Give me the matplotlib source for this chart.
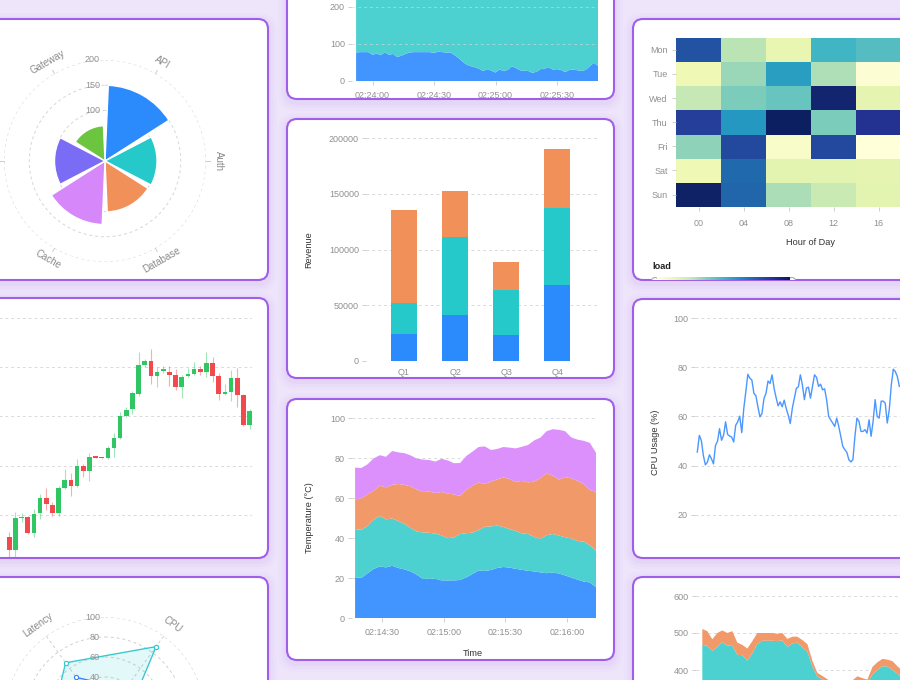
import matplotlib
matplotlib.use("Agg")
import matplotlib.pyplot as plt
import numpy as np
from matplotlib.patches import FancyBboxPatch, Circle

plt.rcParams['font.family'] = ['Liberation Sans', 'DejaVu Sans']

# --- data ---
# rose chart (top left)
rose_labels = ['API', 'Auth', 'Database', 'Cache', 'Queue', 'Gateway']
rose_values = [150, 103, 101, 126, 100, 70]

# stacked area (top middle), 2 s samples from 02:23:52
top_blue = [77, 78, 78, 78, 71, 74, 70, 77, 71, 73, 65, 68, 73, 77, 78, 78, 78, 78, 78, 76,
            79, 78, 77, 77, 70, 62, 52, 44, 40, 37, 33, 27, 32, 28, 23, 31, 27, 30, 40, 35,
            29, 28, 27, 22, 25, 32, 34, 36, 31, 32, 30, 24, 30, 31, 29, 27, 30, 40, 49, 41]
top_teal = [250, 248, 252, 255, 258, 254, 260, 251, 256, 253, 262, 259, 255, 250, 248, 252, 255, 249, 251, 253,
            250, 252, 254, 255, 260, 266, 275, 282, 286, 288, 292, 297, 293, 296, 300, 294, 297, 294, 285, 290,
            295, 296, 297, 302, 299, 292, 290, 288, 293, 292, 294, 300, 294, 293, 295, 297, 294, 284, 276, 283]
top_ticks = [0, 30, 60, 90]
top_tick_labels = ['02:24:00', '02:24:30', '02:25:00', '02:25:30']

# stacked revenue bars
quarters = ['Q1', 'Q2', 'Q3', 'Q4']
rev_a = [24500, 41300, 23300, 67900]
rev_b = [27500, 69900, 40100, 69300]
rev_c = [83400, 41600, 25400, 53000]

# heatmap
days = ['Mon', 'Tue', 'Wed', 'Thu', 'Fri', 'Sat', 'Sun']
hours = ['00', '04', '08', '12', '16', '20']
load = [[78, 27, 14, 50, 46, 45],
        [11, 33, 58, 29, 2, 60],
        [25, 38, 42, 95, 15, 30],
        [84, 60, 98, 38, 88, 20],
        [35, 81, 5, 81, 0, 50],
        [11, 72, 16, 16, 15, 85],
        [97, 73, 30, 24, 16, 40]]

# candlestick (open, high, low, close)
c_open = [97.8, 96.5, 99.7, 99.8, 98.2, 100.2, 101.7, 101.0, 100.2, 102.7,
          103.6, 102.9, 105.0, 104.5, 105.9, 105.8, 105.75, 106.8, 107.8, 110.0,
          110.8, 112.3, 115.2, 115.6, 114.1, 114.6, 114.5, 114.2, 113.0, 114.1,
          114.3, 114.8, 114.5, 115.4, 114.1, 112.3, 112.5, 113.9, 112.2, 109.1]
c_high = [98.3, 100.3, 100.2, 99.9, 100.6, 102.1, 102.7, 101.3, 102.9, 104.7,
          104.3, 105.7, 105.2, 106.3, 106.0, 105.8, 107.0, 108.3, 110.4, 110.95,
          112.6, 116.5, 115.8, 116.8, 115.0, 115.1, 115.1, 114.8, 114.2, 114.9,
          115.5, 115.1, 116.5, 116.0, 114.4, 113.3, 114.7, 114.9, 112.3, 110.8]
c_low = [95.6, 95.6, 99.3, 98.1, 97.8, 99.6, 100.5, 99.9, 99.9, 102.6,
         101.9, 102.8, 103.9, 103.4, 105.8, 105.7, 105.7, 105.85, 107.7, 109.9,
         110.2, 112.1, 115.0, 113.3, 113.0, 114.4, 113.1, 112.7, 111.9, 114.0,
         114.2, 114.2, 114.0, 113.5, 111.7, 112.2, 111.6, 111.0, 109.0, 108.7]
c_close = [96.45, 99.7, 99.8, 98.2, 100.1, 101.7, 101.1, 100.2, 102.7, 103.6,
           102.9, 105.0, 104.5, 105.9, 105.8, 105.75, 106.8, 107.8, 110.0, 110.7,
           112.4, 115.2, 115.6, 114.1, 114.5, 114.8, 114.2, 113.0, 114.0, 114.3,
           114.8, 114.5, 115.4, 114.1, 112.3, 112.5, 113.9, 112.2, 109.1, 110.5]

# temperature stacked area, 3 s samples from 02:14:17
temp_a = [20.4, 20.0, 22.3, 24.5, 25.8, 25.3, 26.1, 25.0, 24.3, 23.3, 21.6, 19.5, 19.7, 19.6, 18.8, 18.8, 18.8, 19.0, 20.3, 22.0,
          23.8, 23.5, 24.0, 25.0, 25.5, 25.2, 24.6, 24.1, 23.6, 23.3, 22.8, 22.4, 22.8, 22.2, 21.3, 20.2, 19.2, 18.2, 17.8, 15.4]
temp_b = [24.0, 24.1, 23.7, 24.7, 25.2, 24.0, 23.7, 23.4, 22.7, 21.7, 21.6, 23.3, 22.9, 22.6, 22.5, 21.1, 21.4, 23.0, 22.1, 20.7,
          20.2, 22.1, 21.8, 21.2, 20.0, 19.2, 18.9, 18.2, 18.4, 17.2, 16.8, 19.0, 19.2, 19.0, 19.1, 19.5, 19.3, 20.0, 18.5, 18.3]
temp_c = [14.9, 15.7, 15.8, 14.4, 15.2, 16.0, 16.8, 18.6, 19.6, 20.8, 21.0, 20.2, 20.6, 20.3, 21.7, 22.3, 21.6, 19.0, 21.6, 23.5,
          23.8, 21.4, 22.4, 23.1, 24.8, 25.1, 24.5, 26.3, 25.8, 27.7, 30.4, 30.9, 29.2, 28.0, 30.1, 30.1, 30.1, 28.8, 27.7, 29.4]
temp_d = [15.9, 15.2, 15.0, 16.2, 15.2, 15.3, 16.9, 15.8, 15.8, 15.5, 15.5, 16.2, 15.8, 15.7, 16.6, 16.6, 15.6, 16.5, 17.0, 17.0,
          17.7, 18.8, 15.8, 15.2, 15.2, 15.7, 16.8, 17.0, 18.7, 20.6, 20.2, 21.1, 23.2, 24.9, 22.9, 20.5, 20.6, 21.6, 23.6, 19.5]
temp_ticks = [0, 30, 60, 90]
temp_tick_labels = ['02:14:30', '02:15:00', '02:15:30', '02:16:00']

# CPU usage line
cpu = [45.5, 52.3, 50.2, 44.1, 40.3, 41.4, 44.4, 42.8, 40.7, 48.2, 49.9, 55.0, 50.3, 52.3, 57.8, 52.7, 52.0, 51.6,
       49.6, 56.4, 57.8, 60.1, 53.4, 63.2, 70.0, 77.1, 75.5, 74.8, 69.4, 68.4, 63.9, 59.8, 61.2, 67.3, 69.4, 74.4,
       73.4, 76.9, 71.4, 67.6, 64.3, 65.9, 63.9, 66.6, 63.2, 60.5, 57.1, 63.2, 67.3, 71.4, 72.0, 76.9,
       72.8, 66.8, 71.5, 71.9, 67.4, 72.2, 76.9, 75.9, 72.2, 73.1, 70.8, 71.2, 66.8, 60.0, 58.6, 57.3, 55.9,
       59.3, 55.9, 51.9, 47.8, 46.5, 45.4, 42.4, 41.5, 42.4, 51.9, 59.3, 58.0, 53.9, 53.9, 54.6, 53.2, 58.6,
       51.9, 58.0, 66.8, 60.0, 59.3, 66.2, 66.2, 65.4, 57.3, 62.7, 72.8, 79.2, 78.2, 76.2, 72.2]

# radar (bottom left)
radar_axes = ['CPU', 'Memory', 'Disk', 'Network', 'Latency']
radar_a = [87, 20, 55, 60, 67]
radar_b = [35, 45, 40, 30, 49]

# stacked area (bottom right)
br_teal = [468, 465, 452, 462, 475, 466, 465, 441, 440, 425, 445, 470, 479, 479, 479, 478, 480, 462, 472, 474, 461,
           450, 410, 382, 375, 366, 356, 350, 352, 355, 362, 372, 368, 364, 388, 400, 410, 410, 400, 390, 378]
br_orange = [43, 40, 31, 38, 32, 34, 40, 33, 28, 33, 33, 30, 21, 21, 21, 20, 20, 22, 18, 16, 20,
             20, 15, 10, 9, 9, 10, 10, 10, 10, 10, 11, 10, 10, 20, 21, 20, 18, 24, 20, 20]

BLUE, TEAL, ORANGE = '#2b8afc', '#26c9c9', '#f2905a'
PINK, VIOLET, GREEN = '#d688fb', '#7b6cf6', '#6cc53f'
A_BLUE, A_TEAL, A_ORANGE, A_PINK = '#4294ff', '#4dd0d0', '#f2996a', '#dc90fb'
TICK_C, LABEL_C, GRID_C = '#c8c8c8', '#909090', '#dadada'
DASH = (0, (3, 3))

W, H = 900, 680
fig = plt.figure(figsize=(9, 6.8), dpi=100)
fig.patch.set_facecolor('#efe5fb')


def px_axes(x0, y0, x1, y1, **kw):
    return fig.add_axes([x0 / W, 1 - y1 / H, (x1 - x0) / W, (y1 - y0) / H], **kw)


def ptext(x, y, s, **kw):
    kw.setdefault('fontsize', 6.6)
    kw.setdefault('color', '#333333')
    kw.setdefault('ha', 'center')
    kw.setdefault('va', 'center')
    fig.text(x / W, 1 - y / H, s, **kw)


def cart_style(ax, grid_top=False):
    ax.set_facecolor('none')
    for s in ax.spines.values():
        s.set_visible(False)
    ax.tick_params(axis='both', colors=TICK_C, labelcolor=LABEL_C, labelsize=6.5,
                   length=3, width=0.6, pad=2)
    ax.grid(axis='y', color=GRID_C, linestyle=DASH, linewidth=0.7,
            alpha=0.6 if grid_top else 1)
    ax.set_axisbelow(not grid_top)


# background and panels
bg = px_axes(0, 0, W, H)
bg.set_xlim(0, W)
bg.set_ylim(H, 0)
bg.axis('off')

panels = {}
cols = [(-59, 268), (287, 614), (633, 960)]
rows = [[(19, 280), (298, 558), (577, 838)],
        [(-161, 99), (119, 378), (399, 660)],
        [(19, 280), (299, 558), (577, 838)]]
for ci, (x0, x1) in enumerate(cols):
    for ri, (y0, y1) in enumerate(rows[ci]):
        for k, a in [(9, 0.06), (6, 0.08), (3, 0.1)]:
            bg.add_patch(FancyBboxPatch((x0 - k, y0 - k + 3), x1 - x0 + 2 * k, y1 - y0 + 2 * k,
                                        boxstyle=f"round,pad=0,rounding_size={10 + k}",
                                        facecolor='#c9a8f0', edgecolor='none', alpha=a))
        p = FancyBboxPatch((x0, y0), x1 - x0, y1 - y0, boxstyle="round,pad=0,rounding_size=10",
                           facecolor='white', edgecolor='#9f5fe9', linewidth=1.5)
        bg.add_patch(p)
        panels[(ci, ri)] = p

# --- rose chart ---
ax = px_axes(4, 60, 206, 262, projection='polar')
ax.set_theta_zero_location('N')
ax.set_theta_direction(-1)
theta = np.deg2rad(np.arange(len(rose_labels)) * 60 + 30)
ax.bar(theta, rose_values, width=np.deg2rad(55),
       color=[BLUE, TEAL, ORANGE, PINK, VIOLET, GREEN], edgecolor='white', linewidth=1, zorder=3)
ax.set_ylim(0, 200)
ax.set_yticks([100, 150, 200])
ax.set_yticklabels([])
ax.set_xticks(theta)
ax.set_xticklabels([])
ax.xaxis.grid(False)
ax.yaxis.grid(True, color='#d6d6d6', linestyle=DASH, linewidth=0.7)
ax.spines['polar'].set_visible(False)
ax.set_facecolor('none')
for v in [100, 150, 200]:
    ax.annotate(str(v), xy=(0, v), xytext=(-5, 0), textcoords='offset pixels',
                ha='right', va='center', fontsize=6.5, color=LABEL_C, zorder=5)
for t, lab in zip(theta, rose_labels):
    deg = np.rad2deg(t)
    ax.plot([t, t], [200, 207], color='#cccccc', lw=0.7, clip_on=False)
    if deg == 270:
        continue  # this label sits beyond the left edge of the canvas
    rot = -deg if (deg <= 90 or deg > 270) else 180 - deg
    ax.text(t, 226, lab, rotation=rot, ha='center', va='center', fontsize=7,
            color='#8a8a8a', rotation_mode='anchor')

# --- stacked area top middle ---
ax = px_axes(352, -130, 598, 81)
t_top = np.arange(len(top_blue)) * 2 - 8
ax.stackplot(t_top, top_blue, top_teal, colors=[A_BLUE, A_TEAL], linewidth=0)
ax.set_xlim(-10, 110)
ax.set_ylim(0, 570)
ax.set_yticks([0, 100, 200])
ax.set_xticks(top_ticks)
ax.set_xticklabels(top_tick_labels)
cart_style(ax, grid_top=True)
ax.tick_params(axis='x', pad=4)

# --- revenue bars ---
ax = px_axes(366, 138, 597, 361)
x = np.arange(len(quarters))
ax.bar(x, rev_a, width=0.5, color=BLUE)
ax.bar(x, rev_b, width=0.5, bottom=rev_a, color=TEAL)
ax.bar(x, rev_c, width=0.5, bottom=np.add(rev_a, rev_b), color=ORANGE)
ax.set_xlim(-0.745, 3.78)
ax.set_ylim(0, 200000)
ax.set_yticks([0, 50000, 100000, 150000, 200000])
ax.set_yticklabels(['0', '50000', '100000', '150000', '200000'])
ax.set_xticks(x)
ax.set_xticklabels(quarters)
cart_style(ax)
ax.tick_params(axis='x', length=0, pad=5)
ptext(309, 250, 'Revenue', rotation=90)

# --- heatmap ---
ax = px_axes(676, 37.7, 946, 206.7)
ax.imshow(np.array(load), cmap='YlGnBu', aspect='auto', vmin=0, vmax=100)
ax.set_xticks(range(len(hours) - 1))
ax.set_xticklabels(hours[:-1])
ax.set_yticks(range(len(days)))
ax.set_yticklabels(days)
for s in ax.spines.values():
    s.set_visible(False)
ax.tick_params(axis='both', colors=TICK_C, labelcolor=LABEL_C, labelsize=6.5, length=3, width=0.6, pad=3)
ax.tick_params(axis='x', pad=6)
ptext(811, 242, 'Hour of Day')
ptext(652, 267, 'load', ha='left', color='#222222', fontweight='bold')
cax = px_axes(657, 277, 790, 292)
grad = cax.imshow(np.linspace(0, 1, 100)[None, :], cmap='YlGnBu', aspect='auto')
grad.set_clip_path(panels[(2, 0)])
cax.axis('off')
for hx in (655, 792):
    c = Circle((hx, 281), 3.5, facecolor='white', edgecolor='#aaaaaa', linewidth=0.8)
    bg.add_patch(c)
    c.set_clip_path(panels[(2, 0)])

# --- candlestick ---
ax = px_axes(-40, 310, 252, 560)
for i, (o, h, l, c) in enumerate(zip(c_open, c_high, c_low, c_close)):
    col = '#2fc663' if c >= o else '#f04a4f'
    ax.vlines(i, l, h, color=col, lw=0.8, alpha=0.45, zorder=2)
    ax.bar(i, max(abs(c - o), 0.15), bottom=min(o, c), width=0.75, color=col, zorder=3)
ax.set_xlim(-8, 39.4)
ax.set_ylim(95.44, 120.79)
ax.set_yticks([100, 105, 110, 115, 120])
ax.set_xticks([])
cart_style(ax)
ax.tick_params(axis='y', labelleft=False, length=0)

# --- temperature stacked area ---
ax = px_axes(352, 418, 596, 618)
t_temp = np.arange(len(temp_a)) * 3 - 13
ax.stackplot(t_temp, temp_a, temp_b, temp_c, temp_d,
             colors=[A_BLUE, A_TEAL, A_ORANGE, A_PINK], linewidth=0)
ax.set_xlim(-14.5, 104)
ax.set_ylim(0, 100)
ax.set_yticks([0, 20, 40, 60, 80, 100])
ax.set_xticks(temp_ticks)
ax.set_xticklabels(temp_tick_labels)
cart_style(ax)
ax.tick_params(axis='x', pad=4)
ptext(309, 518, 'Temperature (°C)', rotation=90)
ptext(473, 654, 'Time')

# --- CPU line ---
ax = px_axes(695, 318, 960, 564)
ax.plot(np.arange(len(cpu)), cpu, color='#4a97ff', lw=1.0)
ax.set_xlim(-1.14, 130)
ax.set_ylim(0, 100)
ax.set_yticks([20, 40, 60, 80, 100])
ax.set_xticks([])
cart_style(ax)
ptext(655, 442, 'CPU Usage (%)', rotation=90)

# --- radar ---
ax = px_axes(5, 617, 205, 817, projection='polar')
ax.set_theta_zero_location('N')
ax.set_theta_direction(-1)
rth = np.deg2rad(36 + 72 * np.arange(len(radar_axes)))
rth_c = np.append(rth, rth[0])
for vals, col in [(radar_a, '#2ec9d0'), (radar_b, '#3b82f6')]:
    vc = np.append(vals, vals[0])
    ax.fill(rth_c, vc, color=col, alpha=0.13, zorder=2)
    ax.plot(rth_c, vc, color=col, lw=0.9, marker='o', ms=3, mfc='white', mew=0.8, zorder=3)
ax.set_ylim(0, 100)
ax.set_yticks([20, 40, 60, 80, 100])
ax.set_yticklabels([])
ax.set_xticks(rth)
ax.set_xticklabels([])
ax.grid(True, color='#d0d0d0', linestyle=DASH, linewidth=0.7)
ax.spines['polar'].set_visible(False)
ax.set_facecolor('none')
for v in [40, 60, 80, 100]:
    ax.annotate(str(v), xy=(0, v), xytext=(-5, 0), textcoords='offset pixels',
                ha='right', va='center', fontsize=6.5, color=LABEL_C, zorder=5)
for t, lab in zip(rth, radar_axes):
    deg = np.rad2deg(t)
    if 90 < deg < 270:
        continue  # lower labels fall below the canvas
    rot = -deg if (deg <= 90 or deg > 270) else 180 - deg
    ax.text(t, 114, lab, rotation=rot, ha='center', va='center', fontsize=7,
            color='#8a8a8a', rotation_mode='anchor')

# --- stacked area bottom right ---
ax = px_axes(696, 596, 960, 818)
i_br = np.arange(len(br_teal))
ax.stackplot(i_br, br_teal, br_orange, colors=[A_TEAL, A_ORANGE], linewidth=0)
ax.set_xlim(-1.26, 51.5)
ax.set_ylim(0, 600)
ax.set_yticks([400, 500, 600])
ax.set_xticks([])
cart_style(ax)

fig.savefig('out.png', dpi=100, facecolor=fig.get_facecolor())
